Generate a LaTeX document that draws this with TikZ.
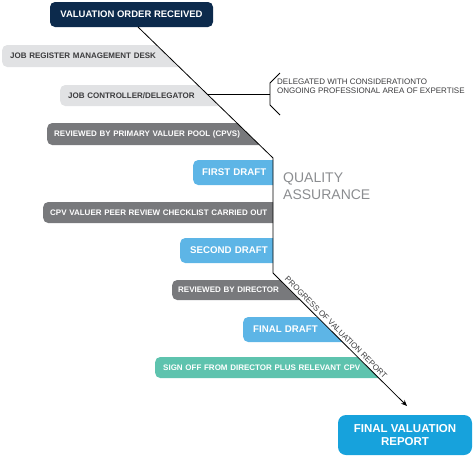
\documentclass[tikz,border=0pt]{standalone}
\usepackage{fontspec}
\setmainfont{Liberation Sans}
\usepackage{tikz}
\usetikzlibrary{arrows.meta}
\definecolor{navy}{HTML}{0C2A4C}
\definecolor{paleg}{HTML}{E1E2E4}
\definecolor{midg}{HTML}{78797C}
\definecolor{skyb}{HTML}{5DB5E6}
\definecolor{signoff}{HTML}{5EC3AE}
\definecolor{repb}{HTML}{17A2DC}
\definecolor{ink}{HTML}{3C3C3E}
\definecolor{qagrey}{HTML}{8B8D90}

\begin{document}
\begin{tikzpicture}[x=1pt,y=-1pt,
  lbl/.style={font=\fontsize{8}{9.6}\selectfont\bfseries},
  bar/.style={lbl,rounded corners=5pt,anchor=west,minimum height=21pt,align=left,inner ysep=0pt},
  pale/.style={bar,fill=paleg,text=ink},
  dark/.style={bar,fill=midg,text=white},
  blue/.style={bar,fill=skyb,text=white,minimum height=25pt,font=\fontsize{9.7}{11}\selectfont\bfseries},
  green/.style={bar,fill=signoff,text=white}]
\useasboundingbox (0,0) rectangle (474,459);
\coordinate (p0) at (138,27);
\coordinate (p1) at (273,158);
\coordinate (p2) at (273,273);
\coordinate (p3) at (407,406);
\begin{scope}
\clip (0,0) -- (110,0) -- (p1) -- (p2) -- (460,459) -- (0,459) -- cycle;
\node[pale,minimum height=22pt,inner xsep=8pt,text width=190pt] (jrmd) at (2,56) {JOB REGISTER MANAGEMENT DESK};
\node[pale,inner xsep=8pt,text width=170pt] (jcd) at (60,95.5) {JOB CONTROLLER/DELEGATOR};
\node[dark,minimum height=22pt,inner xsep=7pt,text width=220pt] (cpvs) at (47,134) {REVIEWED BY PRIMARY VALUER POOL (CPVS)};
\node[blue,inner xsep=9pt,text width=100pt] (fd) at (193,172.5) {FIRST DRAFT};
\node[dark,inner xsep=7pt,text width=240pt] (peer) at (43,212.5) {CPV VALUER PEER REVIEW CHECKLIST CARRIED OUT};
\node[blue,inner xsep=10pt,text width=110pt] (sd) at (180,250.5) {SECOND DRAFT};
\node[dark,minimum height=20pt,inner xsep=6pt,text width=140pt] (rbd) at (172,290) {REVIEWED BY DIRECTOR};
\node[blue,inner xsep=10pt,text width=120pt] (fdr) at (243,329.5) {FINAL DRAFT};
\node[green,inner xsep=8pt,text width=240pt] (sign) at (155,367.5) {SIGN OFF FROM DIRECTOR PLUS RELEVANT CPV};
\end{scope}
\node[fill=navy,text=white,rounded corners=5pt,minimum width=163pt,minimum height=25pt,inner sep=0pt,font=\fontsize{9.5}{11}\selectfont\bfseries] (vor) at (131.5,14.5) {VALUATION ORDER RECEIVED};
\node[fill=repb,text=white,rounded corners=8pt,minimum width=134pt,minimum height=40pt,inner sep=0pt,align=center,font=\fontsize{11.5}{13}\selectfont\bfseries] (fvr) at (405,435) {FINAL VALUATION\\REPORT};
\node[anchor=base west,align=left,inner sep=0pt,text=qagrey,font=\fontsize{14}{17}\selectfont] (qa) at (283,199) {QUALITY\\ASSURANCE};
\node[anchor=base west,align=left,inner sep=0pt,text=ink,font=\fontsize{8}{9.5}\selectfont] (dlg) at (277,93.5) {DELEGATED WITH CONSIDERATIONTO\\ONGOING PROFESSIONAL AREA OF EXPERTISE};
\coordinate (tap) at (207,94);
\coordinate (brk) at (270,94);
\draw[line width=0.8pt] (tap) -- (brk);
\draw[line width=0.8pt] (280,73) -- (270,83) -- (270,105) -- (280,115);
\draw[line width=0.8pt] (p0) -- (p1) -- (p2);
\draw[line width=0.8pt,-{Stealth[length=6pt,width=5pt]}] (p2) -- node[pos=0.44,rotate=-45,anchor=south,inner sep=2.5pt,text=ink,font=\fontsize{8}{9}\selectfont] (prog) {PROGRESS OF VALUATION REPORT} (p3);
\end{tikzpicture}
\end{document}
